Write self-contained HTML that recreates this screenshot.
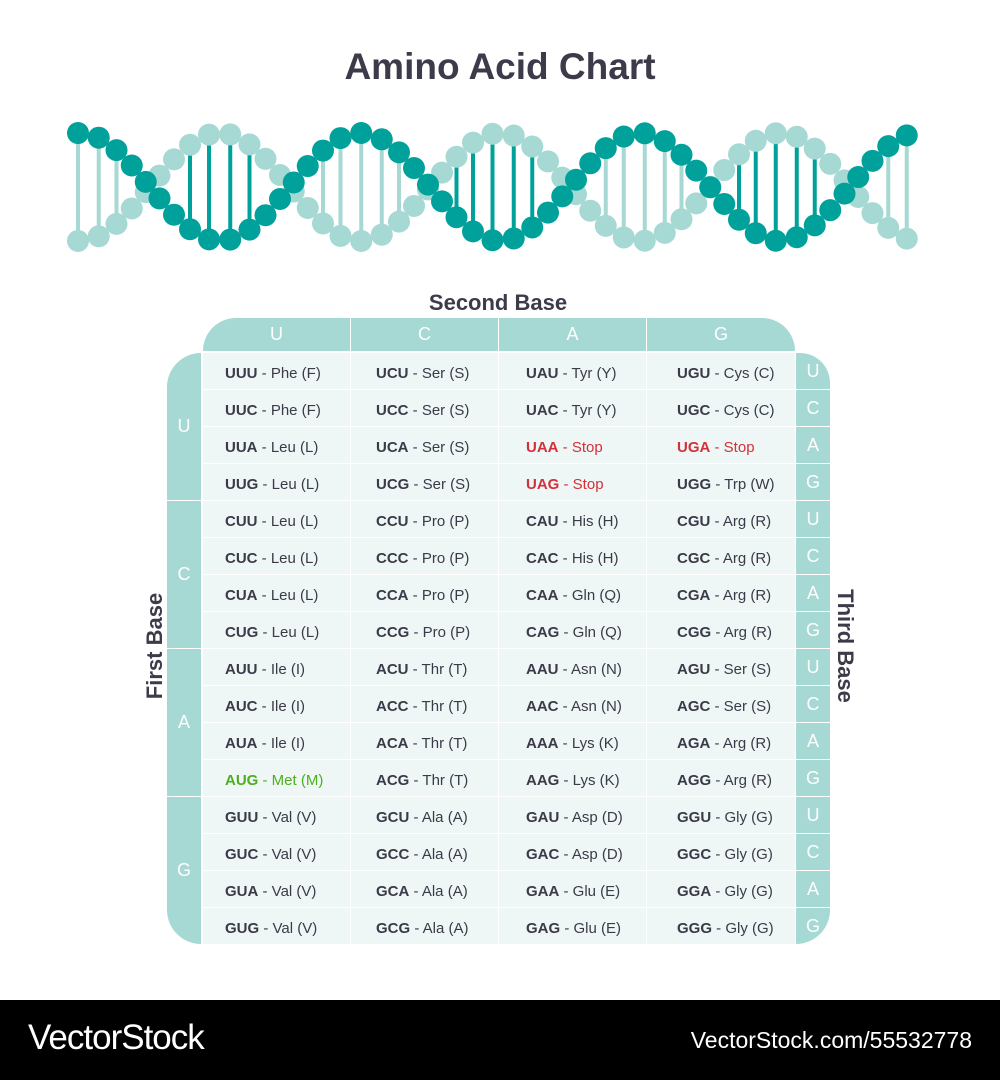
<!DOCTYPE html>
<html><head><meta charset="utf-8"><style>
body{margin:0;width:1000px;height:1080px;position:relative;background:#fff;font-family:"Liberation Sans",sans-serif;overflow:hidden;color:#3b3a48}
.a{position:absolute}
.title{left:0;width:1000px;top:46px;text-align:center;font-size:37px;font-weight:bold;color:#3d3b4a}
.hdr{background:#a6d9d4;color:#fff;font-size:18px;text-align:center}
.cell{background:#eef6f6;font-size:15px;line-height:36px;padding-top:3px;box-sizing:border-box;white-space:nowrap}
.cell b{font-weight:bold}
.red{color:#d2313a}.grn{color:#4caf1e}
.lab{font-size:22px;color:#3d3b4a;font-weight:bold}
.foot{left:0;top:1000px;width:1000px;height:80px;background:#000}
</style></head><body>
<div class="a title">Amino Acid Chart</div>
<svg class="a" style="left:0;top:0" width="1000" height="280" id="dna"></svg>
<div class="a lab" style="left:0;width:996px;text-align:center;top:290px">Second Base</div>
<div class="a lab" style="left:155px;top:646px;transform:translate(-50%,-50%) rotate(-90deg);white-space:nowrap">First Base</div>
<div class="a lab" style="left:845px;top:646px;transform:translate(-50%,-50%) rotate(90deg);white-space:nowrap">Third Base</div>
<div id="tbl"></div>
<div class="a foot"></div>
<div class="a" style="left:28px;top:1018px;color:#fff;font-size:35px;letter-spacing:-1px">VectorStock</div>
<div class="a" style="right:28px;top:1027px;color:#fff;font-size:23px">VectorStock.com/55532778</div>
<script>
const T=document.getElementById('tbl');
function d(style,cls,html){const e=document.createElement('div');e.className='a '+cls;e.style.cssText=style;e.innerHTML=html||'';T.appendChild(e);}
const B=['U','C','A','G'];const cx=[203,351,499,647];const cw=[147,147,147,148];const pad=[22,25,27,30];
B.forEach((b,i)=>{let r='';if(i==0)r='border-top-left-radius:36px;';if(i==3)r='border-top-right-radius:36px;';
d(`left:${cx[i]}px;top:318px;width:${cw[i]}px;height:33px;line-height:33px;${r}`,'hdr',b);});
const aa={UUU:'Phe (F)',UUC:'Phe (F)',UUA:'Leu (L)',UUG:'Leu (L)',CUU:'Leu (L)',CUC:'Leu (L)',CUA:'Leu (L)',CUG:'Leu (L)',AUU:'Ile (I)',AUC:'Ile (I)',AUA:'Ile (I)',AUG:'Met (M)',GUU:'Val (V)',GUC:'Val (V)',GUA:'Val (V)',GUG:'Val (V)',
UC:'Ser (S)',CC:'Pro (P)',AC:'Thr (T)',GC:'Ala (A)',
UAU:'Tyr (Y)',UAC:'Tyr (Y)',UAA:'Stop',UAG:'Stop',CAU:'His (H)',CAC:'His (H)',CAA:'Gln (Q)',CAG:'Gln (Q)',AAU:'Asn (N)',AAC:'Asn (N)',AAA:'Lys (K)',AAG:'Lys (K)',GAU:'Asp (D)',GAC:'Asp (D)',GAA:'Glu (E)',GAG:'Glu (E)',
UGU:'Cys (C)',UGC:'Cys (C)',UGA:'Stop',UGG:'Trp (W)',CG:'Arg (R)',AGU:'Ser (S)',AGC:'Ser (S)',AGA:'Arg (R)',AGG:'Arg (R)',GG:'Gly (G)'};
B.forEach((f,fi)=>{
 let r='';if(fi==0)r='border-top-left-radius:36px;';if(fi==3)r='border-bottom-left-radius:36px;';
 d(`left:167px;top:${353+fi*148}px;width:34px;height:147px;line-height:147px;${r}`,'hdr',f);
 B.forEach((t,ti)=>{const row=fi*4+ti;const y=353+row*37;
  let rr='';if(row==0)rr='border-top-right-radius:30px;';if(row==15)rr='border-bottom-right-radius:34px;';
  d(`left:796px;top:${y}px;width:34px;height:36px;line-height:36px;${rr}`,'hdr',t);
  B.forEach((s,si)=>{const c=f+s+t;let n=aa[c]||aa[f+s];let cls='';
   if(n=='Stop')cls='red';if(c=='AUG')cls='grn';
   d(`left:${cx[si]}px;top:${y}px;width:${cw[si]}px;height:36px;padding-left:${pad[si]}px`,'cell '+cls,`<b>${c}</b> - ${n}`);});
 });});
const S=document.getElementById('dna');let svg='';
const C=187,A=54,P=280,X0=80;
const yd=x=>C-A*Math.cos(2*Math.PI*(x-X0)/P), yl=x=>C+A*Math.cos(2*Math.PI*(x-X0)/P);
function pts(f){let p=[],x=78,px=x,py=f(x);p.push([x,py]);let acc=0;for(let xx=78;xx<=922;xx+=0.25){const yy=f(xx);acc+=Math.hypot(xx-px,yy-py);px=xx;py=yy;if(acc>=21.5){p.push([xx,yy]);acc=0;}}return p;}
const DK='#00a19a',LT='#a6d9d4';
const pd=pts(yd),pl=pts(yl);
pd.forEach(([x,y])=>{const cs=Math.cos(2*Math.PI*(x-X0)/P);if(Math.abs(cs)>0.55){svg+=`<line x1="${x}" y1="${y}" x2="${x}" y2="${yl(x)}" stroke="${cs>0?LT:DK}" stroke-width="4"/>`;}});
pl.forEach(([x,y])=>svg+=`<circle cx="${x}" cy="${y}" r="11" fill="${LT}"/>`);
pd.forEach(([x,y])=>svg+=`<circle cx="${x}" cy="${y}" r="11" fill="${DK}"/>`);
S.innerHTML=svg;
</script>
</body></html>
